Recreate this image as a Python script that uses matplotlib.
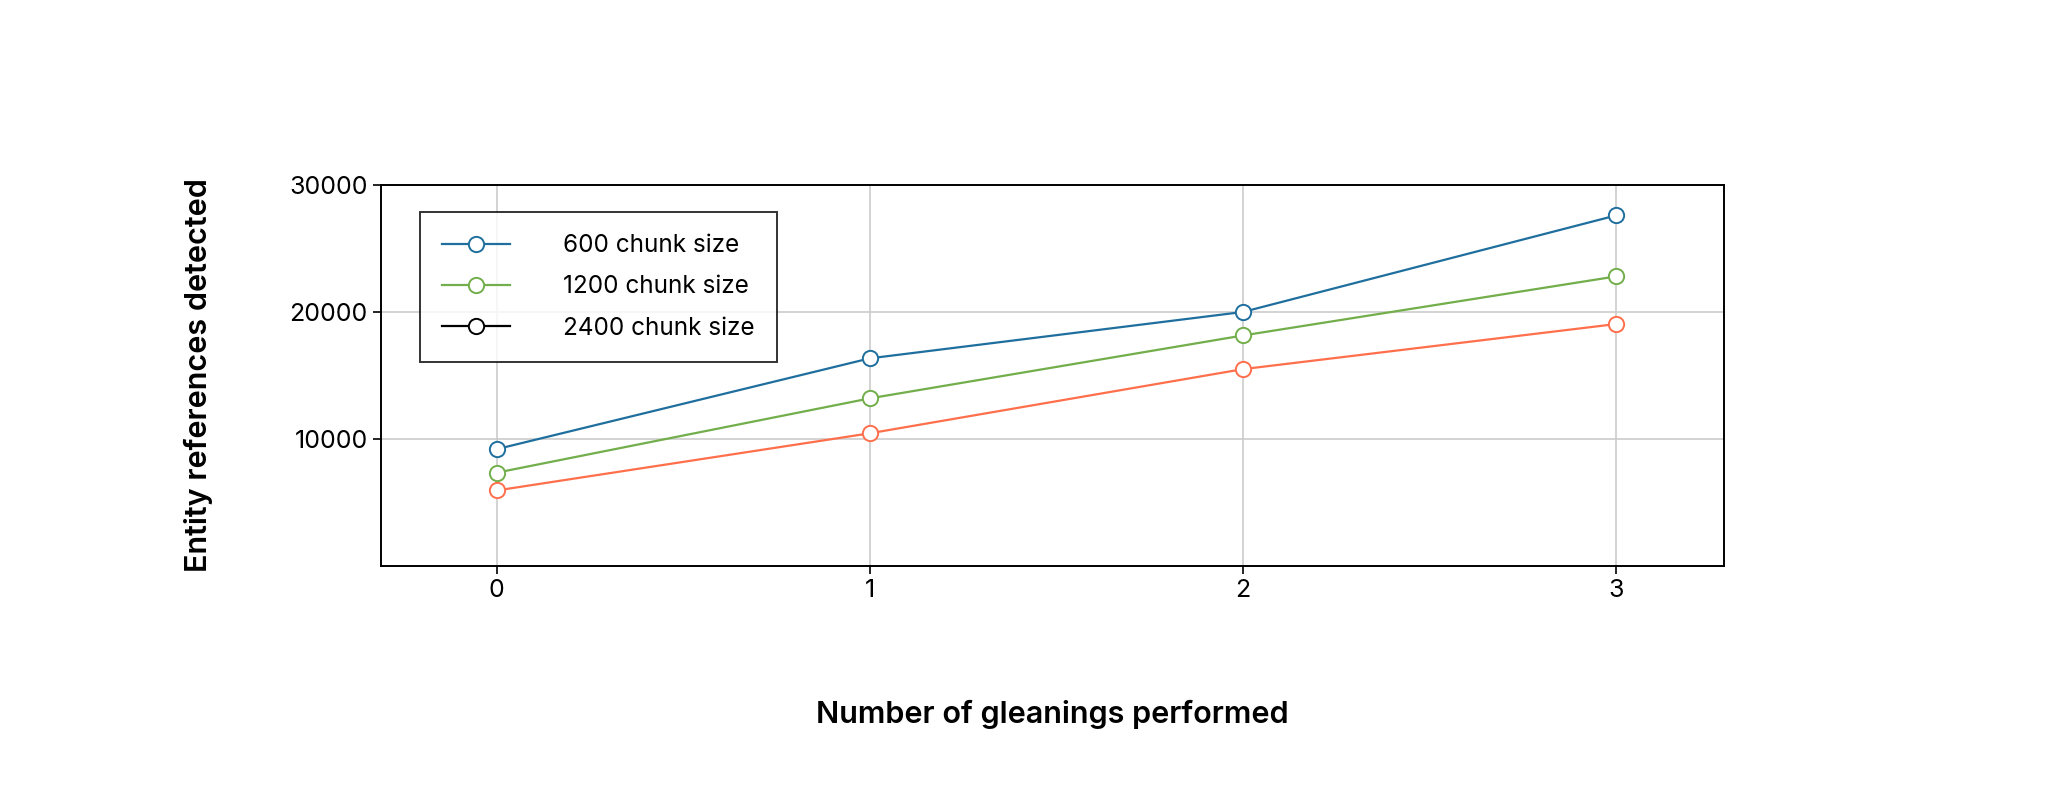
import matplotlib.pyplot as plt

gleanings = [0, 1, 2, 3]
labels = ["600 chunk size", "1200 chunk size", "2400 chunk size"]
refs_600 = [9200, 16350, 20000, 27600]
refs_1200 = [7350, 13200, 18150, 22800]
refs_2400 = [5950, 10450, 15500, 19050]

plt.rcParams["font.family"] = ["Inter", "DejaVu Sans"]
fig = plt.figure(figsize=(20.48, 8.11), dpi=100)
ax = fig.add_axes([0.186, 0.302, 0.656, 0.47])

styles = [("#1f6f9e", refs_600), ("#72ae4b", refs_1200), ("#ff6f4c", refs_2400)]
for (color, vals) in styles:
    ax.plot(gleanings, vals, color=color, marker="o", markersize=11,
            markerfacecolor="white", markeredgewidth=1.4, linewidth=1.6)

# legend handles (third entry is drawn in black in the original)
handles = [
    plt.Line2D([], [], color=c, marker="o", markersize=11, markerfacecolor="white",
               markeredgewidth=1.4, linewidth=1.6)
    for c in ["#1f6f9e", "#72ae4b", "black"]
]
leg = ax.legend(handles, labels, loc="upper left", bbox_to_anchor=(0.02, 0.96),
                fontsize=17.5, frameon=True, fancybox=False, edgecolor="black",
                borderpad=0.9, labelspacing=0.75, handlelength=2.8, handletextpad=2.2)
leg.get_frame().set_linewidth(1.4)

ax.set_xlim(-0.31, 3.29)
ax.set_ylim(0, 30000)
ax.set_xticks(gleanings)
ax.set_yticks([10000, 20000, 30000])
ax.grid(True, color="#cccccc", linewidth=1.2)
ax.set_axisbelow(True)
ax.tick_params(labelsize=18, length=6, width=1.2)
for s in ax.spines.values():
    s.set_linewidth(1.4)
ax.set_xlabel("Number of gleanings performed", fontsize=22, fontweight="semibold", labelpad=70)
ax.set_ylabel("Entity references detected", fontsize=22, fontweight="semibold", labelpad=55)

fig.savefig("out.png", dpi=100)
